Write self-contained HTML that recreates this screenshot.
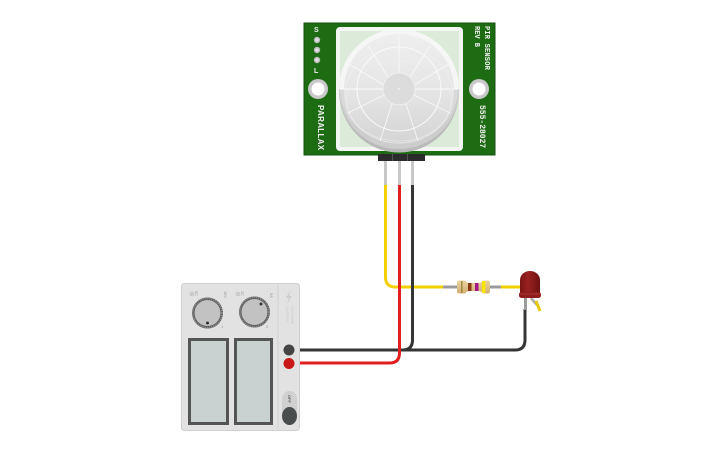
<!DOCTYPE html>
<html><head><meta charset="utf-8"><style>
html,body{margin:0;padding:0;background:#fff;width:725px;height:453px;overflow:hidden}
svg{display:block}
</style></head><body>
<svg width="725" height="453" viewBox="0 0 725 453" xmlns="http://www.w3.org/2000/svg">
<defs>
<linearGradient id="lens" x1="0" y1="0" x2="0" y2="1">
<stop offset="0" stop-color="#eeeeee"/><stop offset="0.5" stop-color="#e6e6e6"/><stop offset="1" stop-color="#d4d4d4"/>
</linearGradient>
<linearGradient id="res" x1="0" y1="0" x2="0" y2="1">
<stop offset="0" stop-color="#ecd3a3"/><stop offset="1" stop-color="#d2ae72"/>
</linearGradient>
<linearGradient id="led" x1="0" y1="0" x2="1" y2="0">
<stop offset="0" stop-color="#7a1414"/><stop offset="0.4" stop-color="#9a2222"/><stop offset="1" stop-color="#6e1010"/>
</linearGradient>
</defs>

<!-- PIR board -->
<rect x="304" y="23" width="191" height="132" fill="#1d6c14" stroke="#145210" stroke-width="1"/>
<rect x="336" y="27" width="127" height="124" rx="4" fill="#f4f6f4"/>
<rect x="340" y="31" width="119" height="116" fill="#dcebd9"/>
<!-- dome -->
<ellipse cx="399" cy="91" rx="60" ry="61.5" fill="#bababa"/>
<ellipse cx="399" cy="90" rx="60" ry="59" fill="#cdcdcd"/>
<ellipse cx="399" cy="89" rx="59" ry="54" fill="#d9d9d9"/>
<path d="M339,89 A60,60 0 0 1 459,89 Z" fill="#f6f6f6"/>
<circle cx="399" cy="89" r="55" fill="url(#lens)"/>
<ellipse cx="399" cy="95" rx="54" ry="48" fill="none" stroke="#efefef" stroke-width="0.8" opacity="0.7"/>
<ellipse cx="399" cy="101" rx="52" ry="40" fill="none" stroke="#efefef" stroke-width="0.8" opacity="0.6"/>
<circle cx="399" cy="89" r="42" fill="none" stroke="#fafafa" stroke-width="1"/>
<line x1="340" y1="89" x2="458" y2="89" stroke="#fafafa" stroke-width="1"/>
<g stroke="#fafafa" stroke-width="0.9" opacity="0.9">
<line x1="399" y1="73" x2="399" y2="34"/>
<line x1="410" y1="77" x2="430" y2="46"/>
<line x1="388" y1="77" x2="368" y2="46"/>
<line x1="414" y1="85" x2="449" y2="64"/>
<line x1="384" y1="85" x2="349" y2="64"/>
<line x1="414" y1="95" x2="450" y2="113"/>
<line x1="384" y1="95" x2="348" y2="113"/>
<line x1="406" y1="104" x2="418" y2="141"/>
<line x1="392" y1="104" x2="380" y2="141"/>
</g>
<circle cx="399" cy="89" r="16" fill="#dcdcdc" stroke="#eeeeee" stroke-width="1"/>
<circle cx="399" cy="89" r="0.8" fill="#fff"/>
<!-- holes -->
<circle cx="318" cy="89" r="10" fill="#c9c9c9"/>
<circle cx="318" cy="89" r="6.5" fill="#ffffff"/>
<circle cx="479" cy="89" r="10" fill="#c9c9c9"/>
<circle cx="479" cy="89" r="6.5" fill="#ffffff"/>
<!-- pins -->
<circle cx="317" cy="40" r="3.2" fill="#bdbdbd"/><circle cx="317" cy="40" r="1.6" fill="#e6e6e6"/>
<circle cx="317" cy="50" r="3.2" fill="#bdbdbd"/><circle cx="317" cy="50" r="1.6" fill="#e6e6e6"/>
<circle cx="317" cy="60" r="3.2" fill="#bdbdbd"/><circle cx="317" cy="60" r="1.6" fill="#e6e6e6"/>
<g font-family="Liberation Sans, sans-serif" fill="#f2f2f2" font-weight="bold">
<text x="314" y="32" font-size="7">S</text>
<text x="314" y="73" font-size="7">L</text>
<text transform="translate(318,105) rotate(90)" font-size="8" letter-spacing="0.3">PARALLAX</text>
</g>
<g font-family="Liberation Mono, monospace" fill="#f2f2f2" font-weight="bold">
<text transform="translate(485,26) rotate(90)" font-size="7" letter-spacing="0.2">PIR SENSOR</text>
<text transform="translate(475,26) rotate(90)" font-size="7">REV B</text>
<text transform="translate(480,105) rotate(90)" font-size="8">555-28027</text>
</g>
<!-- header -->
<rect x="378" y="154" width="47" height="7" fill="#2b2b2b"/>
<rect x="392" y="154" width="1" height="7" fill="#555"/>
<rect x="407" y="154" width="1" height="7" fill="#555"/>
<rect x="384" y="161" width="3" height="25" fill="#c8c8c8"/>
<rect x="398" y="161" width="3" height="25" fill="#c8c8c8"/>
<rect x="411" y="161" width="3" height="25" fill="#c8c8c8"/>

<!-- wires -->
<path d="M385.5,185 V277 Q385.5,287 395.5,287 H446" fill="none" stroke="#f3d000" stroke-width="3"/>
<path d="M500,287 H522" fill="none" stroke="#f3d000" stroke-width="3"/>
<path d="M443,287 H457" stroke="#9c9c9c" stroke-width="3"/>
<path d="M487,287 H501" stroke="#9c9c9c" stroke-width="3"/>
<path d="M412.5,185 V340 Q412.5,350 402.5,350 H290" fill="none" stroke="#353535" stroke-width="3"/>
<path d="M290,350 H515 Q525,350 525,340 V309" fill="none" stroke="#353535" stroke-width="3"/>
<path d="M399.5,185 V353 Q399.5,363 389.5,363 H290" fill="none" stroke="#e11f1f" stroke-width="3"/>

<!-- resistor -->
<path d="M457,282 Q457,280.5 460,280.5 L465,280.5 Q467,283 470,283 L478,283 Q481,283 483,280.5 L487,280.5 Q490,280.5 490,282 L490,292 Q490,293.5 487,293.5 L483,293.5 Q481,291 478,291 L470,291 Q467,291 465,293.5 L460,293.5 Q457,293.5 457,292 Z" fill="url(#res)"/>
<rect x="461" y="281" width="1.5" height="12" fill="#9a8a3a"/>
<rect x="468" y="283" width="3.5" height="8" fill="#8a3b10"/>
<rect x="475" y="283" width="3.5" height="8" fill="#a0168c"/>
<rect x="482" y="281" width="3.5" height="12" fill="#f6e600"/>

<!-- LED -->
<path d="M531,298 L537,305" stroke="#aaaaaa" stroke-width="2.5"/>
<path d="M536,301 L540,311" stroke="#e8c800" stroke-width="3"/>
<rect x="524" y="297" width="3" height="13" fill="#9c9c9c"/>
<path d="M520,295 V280 A10,9 0 0 1 540,280 V295 Z" fill="url(#led)"/>
<rect x="519" y="292" width="22" height="6" rx="2.5" fill="#8e1d1d"/>
<rect x="519" y="293" width="22" height="2" fill="#a83030" opacity="0.6"/>

<!-- power supply -->
<rect x="181.5" y="283.5" width="118" height="147" rx="3" fill="#e2e2e2" stroke="#cfcfcf" stroke-width="1"/>
<line x1="278" y1="285" x2="278" y2="429" stroke="#d2d2d2" stroke-width="1"/>
<!-- knobs -->
<circle cx="207.5" cy="313" r="15.5" fill="#5a5a5a"/>
<circle cx="207.5" cy="313" r="14.5" fill="none" stroke="#9a9a9a" stroke-width="1.5" stroke-dasharray="1 1"/>
<circle cx="207.5" cy="313" r="13" fill="#c2c2c2"/>
<circle cx="207.5" cy="323" r="1.5" fill="#333"/>
<circle cx="254.5" cy="312" r="15.5" fill="#5a5a5a"/>
<circle cx="254.5" cy="312" r="14.5" fill="none" stroke="#9a9a9a" stroke-width="1.5" stroke-dasharray="1 1"/>
<circle cx="254.5" cy="312" r="13" fill="#c2c2c2"/>
<circle cx="261" cy="304" r="1.5" fill="#333"/>
<circle cx="192" cy="294" r="2" fill="#cfcfcf" stroke="#bbb" stroke-width="0.6"/>
<circle cx="238" cy="294" r="2" fill="#cfcfcf" stroke="#bbb" stroke-width="0.6"/>
<g font-family="Liberation Sans, sans-serif" fill="#9a9a9a" font-size="4">
<text transform="translate(195,291) rotate(90)">5C</text>
<text transform="translate(241,291) rotate(90)">3C</text>
<text transform="translate(224,291) rotate(90)">18V</text>
<text transform="translate(270,293) rotate(90)">5A</text>
<text x="221" y="328">1</text>
<text x="266" y="328">2</text>
</g>
<!-- displays -->
<rect x="189.5" y="339.5" width="38" height="84" fill="#c9d1d1" stroke="#555" stroke-width="3"/>
<rect x="235.5" y="339.5" width="36" height="84" fill="#c9d1d1" stroke="#555" stroke-width="3"/>
<!-- strip -->
<path d="M290,291 L286,298 L289,298 L287,304 L292,296 L289,296 Z" fill="#cdcdcd"/>
<g font-family="Liberation Sans, sans-serif" fill="#c8c8c8" font-size="4">
<text transform="translate(291,306) rotate(90)">VOLTAGE</text>
<text transform="translate(286,307) rotate(90)">SUPPLY</text>
</g>
<circle cx="289" cy="350" r="5.5" fill="#444"/>
<circle cx="289" cy="363.5" r="5.5" fill="#c81818"/>
<rect x="282" y="391" width="15" height="34" rx="7.5" fill="#d0d0d0"/>
<ellipse cx="289.5" cy="416" rx="7.5" ry="9" fill="#4a4d4d"/>
<text transform="translate(288,395) rotate(90)" font-family="Liberation Sans, sans-serif" font-size="4" font-weight="bold" fill="#666">OFF</text>
</svg>
</body></html>
